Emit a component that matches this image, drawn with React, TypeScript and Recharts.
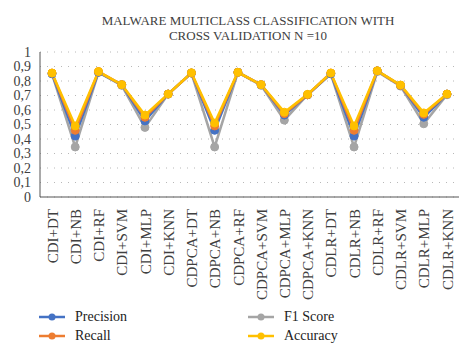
import React from 'react';
import { LineChart, Line, XAxis, YAxis, CartesianGrid } from 'recharts';

const categories = [
  'CDI+DT', 'CDI+NB', 'CDI+RF', 'CDI+SVM', 'CDI+MLP', 'CDI+KNN',
  'CDPCA+DT', 'CDPCA+NB', 'CDPCA+RF', 'CDPCA+SVM', 'CDPCA+MLP', 'CDPCA+KNN',
  'CDLR+DT', 'CDLR+NB', 'CDLR+RF', 'CDLR+SVM', 'CDLR+MLP', 'CDLR+KNN',
];

const precision = [0.85, 0.42, 0.86, 0.775, 0.525, 0.71, 0.855, 0.46, 0.86, 0.775, 0.565, 0.705, 0.85, 0.42, 0.87, 0.77, 0.55, 0.71];
const recall = [0.855, 0.46, 0.865, 0.775, 0.55, 0.71, 0.855, 0.49, 0.86, 0.775, 0.575, 0.705, 0.855, 0.46, 0.87, 0.77, 0.57, 0.71];
const f1Score = [0.85, 0.345, 0.86, 0.77, 0.48, 0.71, 0.855, 0.345, 0.86, 0.77, 0.53, 0.705, 0.85, 0.345, 0.865, 0.765, 0.505, 0.705];
const accuracy = [0.855, 0.49, 0.865, 0.775, 0.565, 0.71, 0.857, 0.51, 0.86, 0.775, 0.585, 0.708, 0.855, 0.49, 0.87, 0.772, 0.58, 0.71];

const yTicks = [0, 0.1, 0.2, 0.3, 0.4, 0.5, 0.6, 0.7, 0.8, 0.9, 1];

const SERIES = [
  { key: 'precision', name: 'Precision', color: '#4472C4' },
  { key: 'recall', name: 'Recall', color: '#ED7D31' },
  { key: 'f1', name: 'F1 Score', color: '#A5A5A5' },
  { key: 'accuracy', name: 'Accuracy', color: '#FFC000' },
];

const data = categories.map((name, i) => ({
  name,
  precision: precision[i],
  recall: recall[i],
  f1: f1Score[i],
  accuracy: accuracy[i],
}));

const FONT = '"Liberation Serif", "DejaVu Serif", serif';
const TEXT = '#404040';

// draw order: F1 and recall under, accuracy on top
const DRAW_ORDER = ['f1', 'precision', 'recall', 'accuracy'];

const LegendItem: React.FC<{ name: string; color: string; left: number; top: number }> = ({ name, color, left, top }) => (
  <div style={{ position: 'absolute', left, top, display: 'flex', alignItems: 'center', height: 18 }}>
    <svg width={26} height={10}>
      <line x1={0} y1={5} x2={26} y2={5} stroke={color} strokeWidth={2.5} />
      <circle cx={13} cy={5} r={3.5} fill={color} />
    </svg>
    <span style={{ marginLeft: 10, fontSize: 14, color: '#222', fontFamily: FONT }}>{name}</span>
  </div>
);

const App: React.FC = () => {
  return (
    <div style={{ position: 'relative', width: 474, height: 361, background: '#fff', fontFamily: FONT }}>
      <style>{'body{margin:0}'}</style>
      <div
        style={{
          position: 'absolute',
          top: 13,
          left: 0,
          width: 496,
          textAlign: 'center',
          fontSize: 13,
          lineHeight: '15px',
          color: TEXT,
        }}
      >
        MALWARE MULTICLASS CLASSIFICATION WITH
        <br />
        CROSS VALIDATION N =10
      </div>
      <LineChart
        width={474}
        height={361}
        data={data}
        margin={{ top: 52, right: 15, left: 0, bottom: 64 }}
        style={{ fontFamily: FONT }}
      >
        <CartesianGrid vertical={false} stroke="#b8b8b8" strokeDasharray="1 6" />
        <XAxis
          dataKey="name"
          interval={0}
          height={100}
          angle={-90}
          textAnchor="end"
          tickLine={false}
          padding={{ left: 12, right: 12 }}
          axisLine={{ stroke: '#555' }}
          tick={{ fontSize: 15, fill: TEXT, fontFamily: FONT, dx: -5, dy: 4 }}
        />
        <YAxis
          domain={[0, 1]}
          ticks={yTicks}
          interval={0}
          width={40}
          tickLine={false}
          axisLine={{ stroke: '#555' }}
          tickFormatter={(v: number) => String(v).replace('.', ',')}
          tick={{ fontSize: 14, fill: TEXT, fontFamily: FONT, dx: -1 }}
        />
        {DRAW_ORDER.map((k) => {
          const s = SERIES.find((x) => x.key === k)!;
          return (
            <Line
              key={s.key}
              type="linear"
              dataKey={s.key}
              name={s.name}
              stroke={s.color}
              strokeWidth={2.5}
              dot={{ r: 4, fill: s.color, stroke: s.color, strokeWidth: 1 }}
              isAnimationActive={false}
            />
          );
        })}
      </LineChart>
      <LegendItem name="Precision" color={SERIES[0].color} left={39} top={308} />
      <LegendItem name="Recall" color={SERIES[1].color} left={39} top={327} />
      <LegendItem name="F1 Score" color={SERIES[2].color} left={248} top={308} />
      <LegendItem name="Accuracy" color={SERIES[3].color} left={248} top={327} />
    </div>
  );
};

export default App;
